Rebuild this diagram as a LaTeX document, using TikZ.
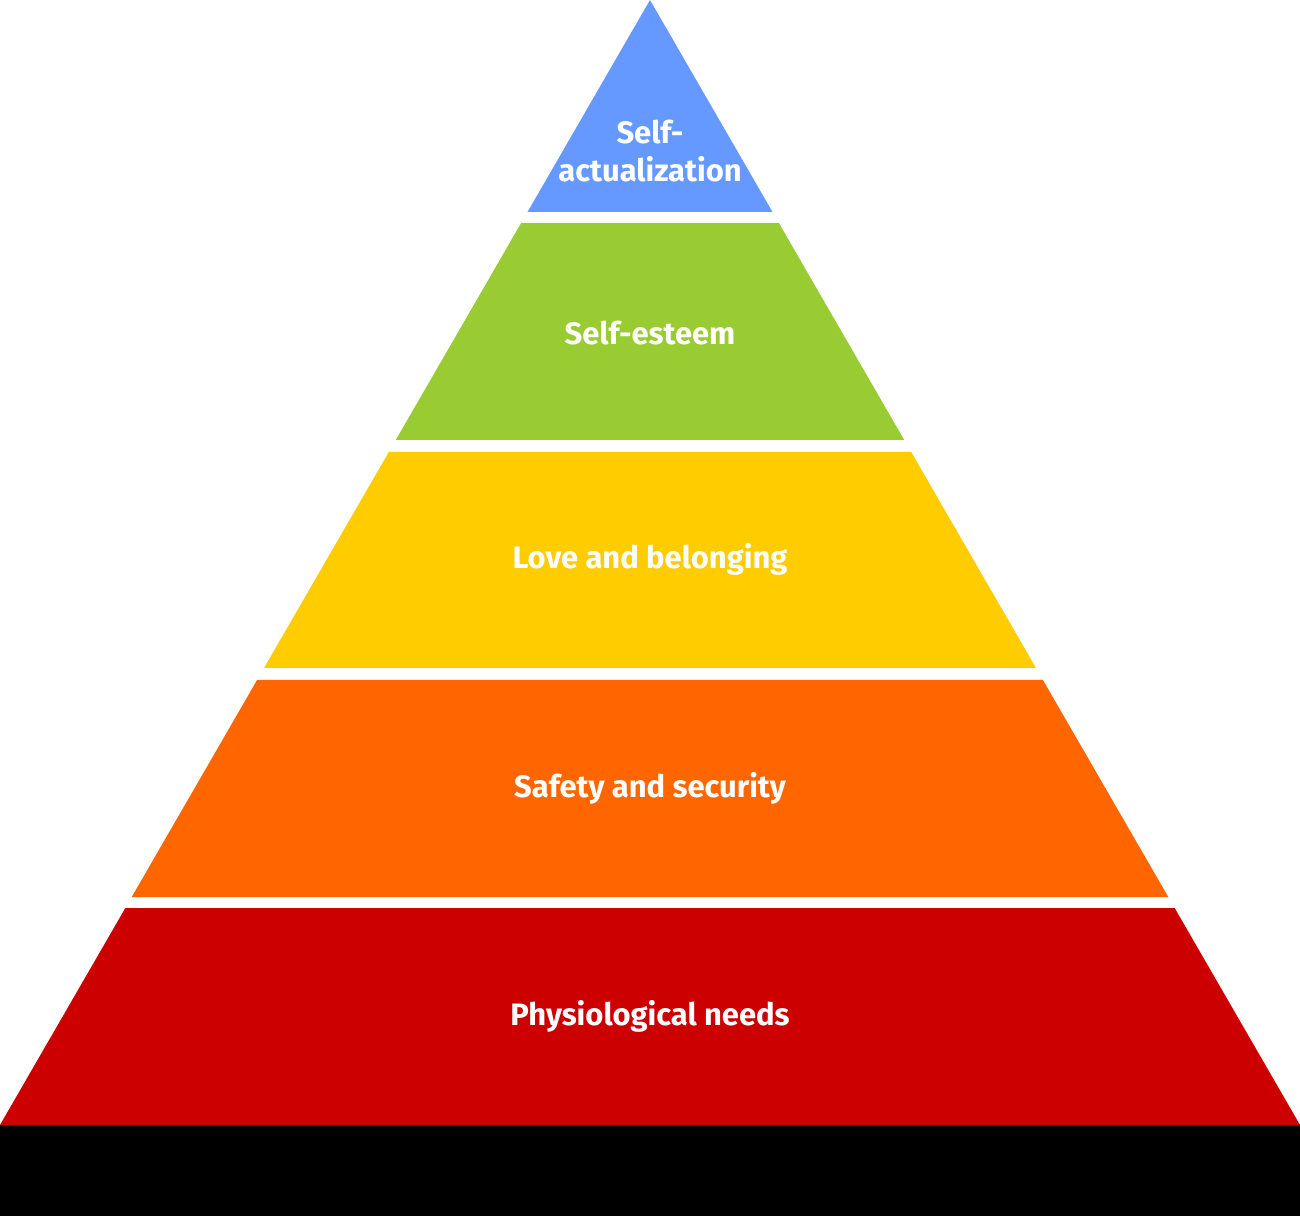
\documentclass[tikz,border=0pt]{standalone}
\usepackage{fontspec}
\setmainfont{Fira Sans}
\usepackage{tikz}
\definecolor{topblue}{HTML}{6699FF}
\definecolor{esteemgreen}{HTML}{99CC33}
\definecolor{loveyellow}{HTML}{FFCC00}
\definecolor{safeorange}{HTML}{FF6600}
\definecolor{needred}{HTML}{CC0000}
\tikzset{
    level/.style={draw=none}, % one slice of the pyramid
    level label/.style={text=white, align=center, inner sep=0pt, font=\bfseries\fontsize{8.8}{11}\selectfont}
}

\begin{document}
\begin{tikzpicture}[x=0.01cm, y=-0.01cm]
    \def\apex{650} \def\slope{0.5778}
    \useasboundingbox (0,0) rectangle (1300,1216);
    \fill[white] (0,0) rectangle (1300,1216);

    % slices: top / bottom / colour / label height / text
    \foreach \t/\b/\c/\ly/\txt [count=\i] in {
        0/212/topblue/151/{Self-\\actualization},
        223/440/esteemgreen/333/{Self-esteem},
        452/668/loveyellow/559/{Love and belonging},
        680/897/safeorange/788/{Safety and security},
        908/1125/needred/1016/{Physiological needs}} {
        \fill[level, \c] ({\apex-\slope*\t},\t) -- ({\apex+\slope*\t},\t)
            -- ({\apex+\slope*\b},\b) -- ({\apex-\slope*\b},\b) -- cycle;
        \node[level label] (level\i) at (\apex,\ly) {\txt};
    }

    \fill[black] (0,1125) rectangle (1300,1216);
\end{tikzpicture}
\end{document}
